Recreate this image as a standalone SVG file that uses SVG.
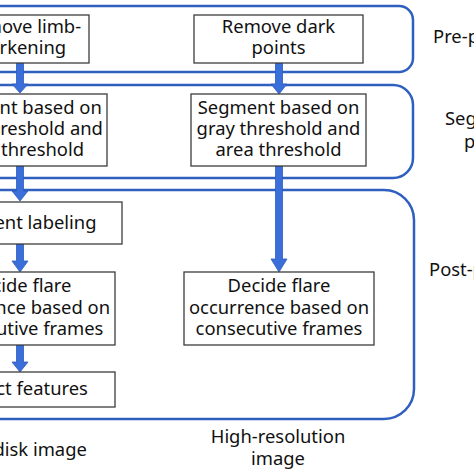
<svg xmlns="http://www.w3.org/2000/svg" width="474" height="474" viewBox="0 0 474 474">
<style>
.panel{fill:none;stroke:#2f5fbf;stroke-width:2.5}
.box{fill:#fff;stroke:#3c3c3c;stroke-width:1.3}
.t{font-family:"Noto Sans","Open Sans","DejaVu Sans",sans-serif;font-size:18.4px;fill:#111;text-anchor:middle}
.lab{font-family:"Noto Sans","Open Sans","DejaVu Sans",sans-serif;font-size:18.4px;fill:#111}
.arr{fill:#3a6fd9;stroke:#2d5bbf;stroke-width:0.8}
</style>
<rect width="474" height="474" fill="#fff"/>
<g id="panels">
<rect id="panel-pre" class="panel" x="-80" y="6" width="493" height="66" rx="14"/>
<rect id="panel-seg" class="panel" x="-80" y="85" width="493" height="93" rx="20"/>
<rect id="panel-post" class="panel" x="-80" y="190" width="494" height="229" rx="30"/>
</g>
<g id="connectors">
<polygon class="arr" points="16.5,63 23.5,63 23.5,84 28,84 20,93 12,84 16.5,84"/>
<polygon class="arr" points="16.5,166 23.5,166 23.5,191 28,191 20,201 12,191 16.5,191"/>
<polygon class="arr" points="16.5,244 23.5,244 23.5,261 28,261 20,272 12,261 16.5,261"/>
<polygon class="arr" points="16.5,345 23.5,345 23.5,362 28,362 20,372 12,362 16.5,362"/>
<polygon class="arr" points="275.5,63 282.5,63 282.5,84 287,84 279,94 271,84 275.5,84"/>
<polygon class="arr" points="275.5,166 282.5,166 282.5,259 287,259 279,272 271,259 275.5,259"/>
</g>
<g id="node-limb">
<rect class="box" x="-45" y="15" width="134" height="48"/>
<text class="t" x="22" y="33">Remove limb-</text>
<text class="t" x="22" y="54">darkening</text>
</g>
<g id="node-dark">
<rect class="box" x="194" y="15" width="169" height="48"/>
<text class="t" x="278.5" y="33">Remove dark</text>
<text class="t" x="278.5" y="54">points</text>
</g>
<g id="node-seg-left">
<rect class="box" x="-65" y="94" width="172" height="72"/>
<text class="t" x="21" y="114">Segment based on</text>
<text class="t" x="21" y="135">gray threshold and</text>
<text class="t" x="21" y="156">area threshold</text>
</g>
<g id="node-seg-right">
<rect class="box" x="191" y="94" width="175" height="72"/>
<text class="t" x="278.5" y="114">Segment based on</text>
<text class="t" x="278.5" y="135">gray threshold and</text>
<text class="t" x="278.5" y="156">area threshold</text>
</g>
<g id="node-label">
<rect class="box" x="-80" y="202" width="202" height="42"/>
<text class="t" x="21" y="229">Segment labeling</text>
</g>
<g id="node-decide-left">
<rect class="box" x="-75" y="272" width="190" height="73"/>
<text class="t" x="20" y="292">Decide flare</text>
<text class="t" x="20" y="314">occurrence based on</text>
<text class="t" x="20" y="335">consecutive frames</text>
</g>
<g id="node-decide-right">
<rect class="box" x="184" y="272" width="190" height="73"/>
<text class="t" x="279" y="292">Decide flare</text>
<text class="t" x="279" y="314">occurrence based on</text>
<text class="t" x="279" y="335">consecutive frames</text>
</g>
<g id="node-extract">
<rect class="box" x="-75" y="372" width="190" height="35"/>
<text class="t" x="20" y="395">Extract features</text>
</g>
<g id="labels">
<text class="lab" x="433" y="43">Pre-processing</text>
<text class="lab" x="445" y="125">Segmentation</text>
<text class="lab" x="464" y="148">process</text>
<text class="lab" x="429" y="276">Post-processing</text>
<text class="t" x="22" y="456">Full-disk image</text>
<text class="t" x="278" y="443">High-resolution</text>
<text class="t" x="278" y="465">image</text>
</g>
</svg>
